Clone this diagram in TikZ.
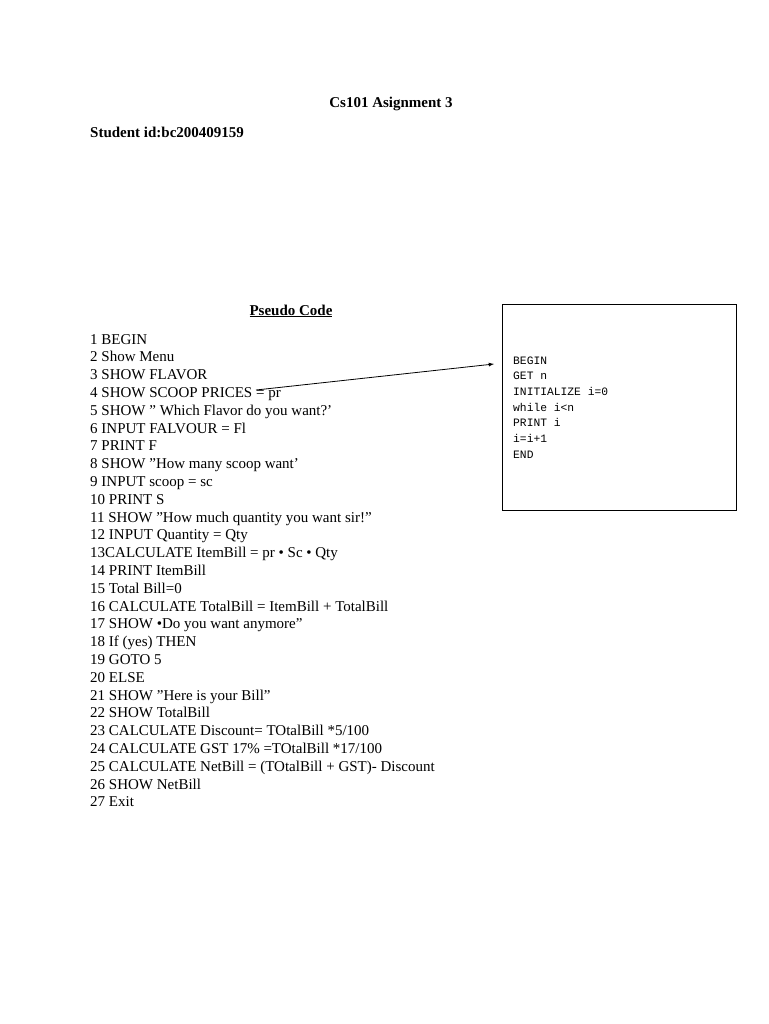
\documentclass[tikz,border=0pt]{standalone}
\usepackage{fontspec}
\setmainfont{Liberation Serif}
\newfontfamily\monof{Liberation Mono}
\newcommand\dq{\symbol{34}}
\newcommand\sq{\symbol{39}}
\begin{document}
\begin{tikzpicture}[x=1pt,y=-1pt,
  ln/.style={anchor=base west,inner sep=0pt,font=\fontsize{15}{15}\selectfont},
  ml/.style={anchor=base west,inner sep=0pt,font=\monof\fontsize{11.3}{11.3}\selectfont}]
\useasboundingbox (0,0) rectangle (768,1024);
\node[anchor=base,inner sep=0pt,font=\bfseries\fontsize{15}{15}\selectfont] (title) at (391,108) {Cs101 Asignment 3};
\node[ln,font=\bfseries\fontsize{15}{15}\selectfont] (sid) at (90,138) {Student id:bc200409159};
\node[anchor=base,inner sep=0pt,font=\bfseries\fontsize{15}{15}\selectfont] (pc) at (291,315) {\underline{Pseudo Code}};
\foreach \t [count=\i] in {1 BEGIN,2 Show Menu,3 SHOW FLAVOR,4 SHOW SCOOP PRICES = pr,
 5 SHOW \dq{} Which Flavor do you want?\sq,6 INPUT FALVOUR = Fl,7 PRINT F,8 SHOW \dq{}How many scoop want\sq,
 9 INPUT scoop = sc,10 PRINT S,11 SHOW \dq{}How much quantity you want sir!\dq,12 INPUT Quantity = Qty,
 13CALCULATE ItemBill = pr • Sc • Qty,14 PRINT ItemBill,15 Total Bill=0,
 16 CALCULATE TotalBill = ItemBill + TotalBill,17 SHOW •Do you want anymore\dq,18 If (yes) THEN,
 19 GOTO 5,20 ELSE,21 SHOW \dq{}Here is your Bill\dq,22 SHOW TotalBill,
 23 CALCULATE Discount= TOtalBill *5/100,24 CALCULATE GST 17\% =TOtalBill *17/100,
 25 CALCULATE NetBill = (TOtalBill + GST)- Discount,26 SHOW NetBill,27 Exit}
 \node[ln] (l\i) at (90,{344+(\i-1)*17.8}) {\t};
\node[draw,line width=0.8pt,minimum width=234pt,minimum height=206pt,anchor=north west,inner sep=0pt] (box) at (502,304) {};
\foreach \t [count=\i] in {BEGIN,GET n,INITIALIZE i=0,while i<n,PRINT i,i=i+1,END}
 \node[ml] (m\i) at (513,{364+(\i-1)*15.7}) {\t};
\coordinate (as) at (256,390);
\coordinate (ae) at (494,364);
\draw[-latex,line width=0.8pt] (as) -- (ae);
\end{tikzpicture}
\end{document}
